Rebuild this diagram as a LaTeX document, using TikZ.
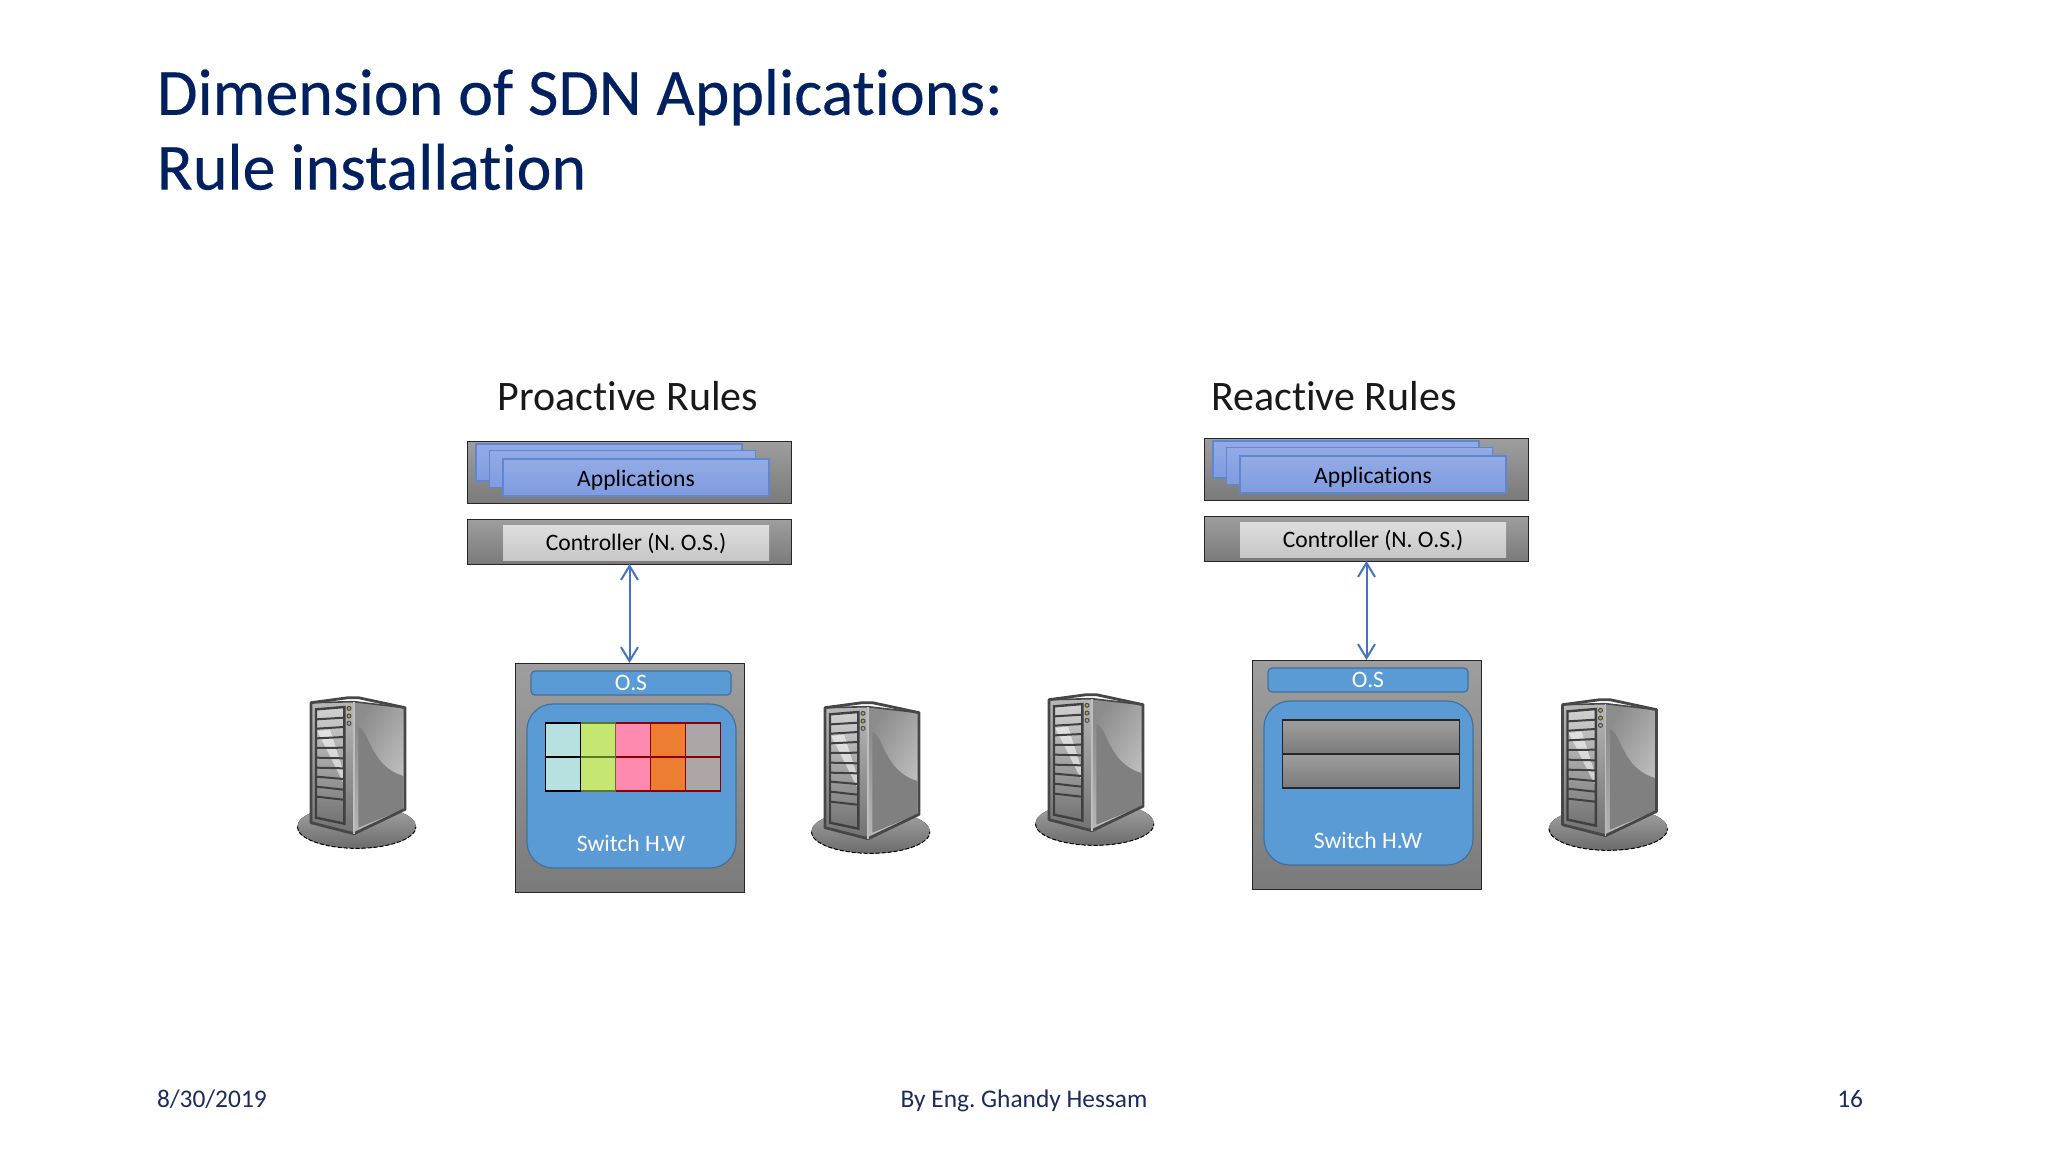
\documentclass[tikz,border=0pt]{standalone}
\usepackage{fontspec}
\setmainfont[Ligatures={TeX,NoCommon}]{Carlito}
\usepackage{xcolor}
\usetikzlibrary{arrows.meta,positioning}
\frenchspacing

\definecolor{titleblue}{HTML}{002060}
\definecolor{footcol}{HTML}{1C2B5E}
\definecolor{linkblue}{HTML}{4472C4}
\definecolor{hwblue}{HTML}{5B9BD5}
\definecolor{hwedge}{HTML}{41719C}
\definecolor{apptop}{HTML}{93ABE6}
\definecolor{appbot}{HTML}{7F9CE0}

\tikzset{
	server/.pic={
		\begin{scope}[scale=1/3]
			% floor shadow
			\fill[top color=black!35,bottom color=black!58] (200,437) ellipse [x radius=178,y radius=65];
			\draw[black,line width=.5pt,dash pattern=on 2pt off 1pt] (22,437) arc [start angle=180,end angle=0,x radius=178,y radius=65];
			% right side and wave
			\fill[top color=black!45,bottom color=black!20,shading angle=60] (192,62) -- (345,80) -- (345,385) -- (192,458) -- cycle;
			\fill[black!50] (205,138) .. controls (240,150) and (240,255) .. (340,285) -- (340,385) -- (205,440) -- cycle;
			% front
			\fill[top color=black!28,bottom color=black!55] (63,65) -- (192,62) -- (192,458) -- (63,425) -- cycle;
			\fill[top color=black!18,bottom color=black!55] (78,85) -- (163,78) -- (163,428) -- (78,410) -- cycle;
			\fill[white,opacity=.55] (82,150) -- (120,146) -- (160,270) -- (160,305) -- cycle;
			% slots
			\foreach \yl/\yr in {115/110,143/138,172/168,201/200,230/232,260/262,287/294,317/326,347/356}
				\draw[black!75,line width=1pt] (80,\yl) -- (161,\yr);
			\draw[black!75,line width=1.2pt] (78,85) -- (163,78) -- (163,428) -- (78,410) -- cycle;
			% lamps
			\foreach \ly/\lc in {82/olive!70,105/olive!70,127/black!35}
				\draw[black!70,fill=\lc,line width=.5pt] (177,\ly) circle (6);
			% outline
			\draw[black!72,line width=1.4pt,line join=round] (63,65) -- (175,50) -- (205,50) -- (345,80) -- (345,385) -- (192,458) -- (63,425) -- cycle;
			\draw[black!72,line width=.8pt] (63,65) -- (192,62) -- (345,80);
			\draw[black!25,line width=.8pt] (192,62) -- (192,458);
		\end{scope}
	}
}

\begin{document}
\begin{tikzpicture}[x=.5pt,y=-.5pt]
	\tikzstyle{every node}=[inner sep=0pt,outer sep=0pt]
	\tikzstyle{greybox}=[draw=black!85,line width=.4pt,top color=black!38,bottom color=black!52,rectangle]
	\tikzstyle{appbox}=[draw=linkblue!85,line width=.6pt,top color=apptop,bottom color=appbot,minimum width=133pt,minimum height=18.5pt]
	\tikzstyle{ctrlbox}=[top color=black!13,bottom color=black!22,minimum width=133pt,minimum height=17.5pt]
	\tikzstyle{osbar}=[draw=hwedge,line width=.6pt,fill=hwblue,rounded corners=2pt,minimum width=100pt,minimum height=12pt,text=white]
	\tikzstyle{hwbox}=[draw=hwedge,line width=.6pt,fill=hwblue,rounded corners=13pt,minimum width=104.5pt,minimum height=82pt]
	\tikzstyle{cell}=[line width=.9pt,minimum width=17.5pt,minimum height=17pt]
	\tikzstyle{label}=[font=\fontsize{11.8}{13}\selectfont]
	\tikzstyle{head}=[font=\fontsize{21}{24}\selectfont,text=black!90]
	\tikzstyle{foot}=[font=\fontsize{12.7}{14}\selectfont,text=footcol,anchor=base]
	\useasboundingbox (0,0) rectangle (2048,1152);

	\node[anchor=north west,align=left,text=titleblue,font=\fontsize{33}{37.4}\selectfont\addfontfeature{FakeBold=.25}] (title) at (157,69) {Dimension of SDN Applications:\\Rule installation};
	\node[head] (prohead) at (628,396) {Proactive Rules};
	\node[head] (reahead) at (1334,396) {Reactive Rules};

	% both set-ups are the same but for the flow table
	\foreach \grp/\dx/\dy in {pro/0/0,rea/737/-3}{
		\begin{scope}[shift={(\dx,\dy)}]
			\node[greybox,minimum width=162pt,minimum height=31pt] (\grp apps) at (629.5,472) {};
			\node[appbox] (\grp appa) at (609,462.5) {};
			\node[appbox] (\grp appb) at (622.5,469) {};
			\node[appbox] (\grp appc) at (636,477.5) {};
			\node[label] (\grp apptxt) at (636,480) {Applications};
			\node[greybox,minimum width=162pt,minimum height=22.5pt] (\grp ctrl) at (629.5,541.5) {};
			\node[ctrlbox] (\grp ctrlin) at (636,542.5) {};
			\node[label] (\grp ctrltxt) at (636,543.5) {Controller (N. O.S.)};
			\node[greybox,minimum width=114.5pt,minimum height=114.5pt] (\grp sw) at (629.5,777.5) {};
			\node[osbar,label] (\grp os) at (631,683) {O.S};
			\node[hwbox] (\grp hw) at (631.5,786) {};
			\node[label,text=white] (\grp hwtxt) at (631,843) {Switch H.W};
			\draw[linkblue,line width=1pt,{Straight Barb[length=7pt,width=8.5pt]}-{Straight Barb[length=7pt,width=8.5pt]}] (\grp ctrl) -- (\grp sw);
		\end{scope}
	}

	% flow table
	\foreach \cx/\cfill/\cedge/\cn in {703/ACA6A6/8B0000/e,668/ED7D31/8B0000/d,633/FF8AB0/8B0000/c,598/C5E671/5A7A2A/b,563/B7E1E1/000000/a}{
		\definecolor{cellfill}{HTML}{\cfill}
		\definecolor{celledge}{HTML}{\cedge}
		\node[cell,draw=celledge,fill=cellfill] (tab\cn t) at (\cx,740) {};
		\node[cell,draw=celledge,fill=cellfill] (tab\cn b) at (\cx,774) {};
	}
	\node[greybox,minimum width=88.5pt,minimum height=17pt,line width=.6pt] (rowa) at (1371,737) {};
	\node[greybox,minimum width=88.5pt,minimum height=17pt,line width=.6pt] (rowb) at (1371,771) {};

	\path (290,681) pic {server};
	\path (804,686) pic {server};
	\path (1028,678) pic {server};
	\path (1541.5,683) pic {server};

	\node[foot,anchor=base west] (date) at (157,1107) {8/30/2019};
	\node[foot] (by) at (1024,1107) {By Eng. Ghandy Hessam};
	\node[foot,anchor=base east] (page) at (1863,1107) {16};
\end{tikzpicture}
\end{document}
